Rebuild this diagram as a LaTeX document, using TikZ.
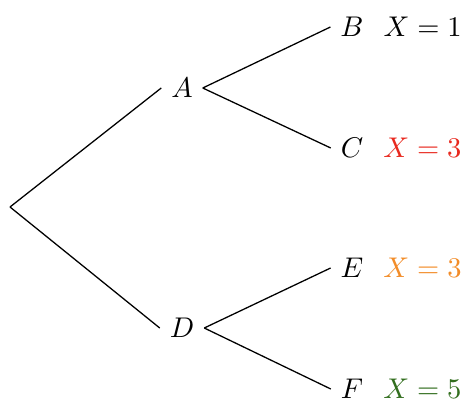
\documentclass[tikz,border=0pt]{standalone}
\definecolor{xred}{RGB}{232,40,30}
\definecolor{xorange}{RGB}{242,140,40}
\definecolor{xgreen}{RGB}{50,110,30}
\begin{document}
\begin{tikzpicture}[x=0.351pt,y=-0.351pt,
  edge/.style={draw=black, line width=0.45pt}]
\useasboundingbox (0,0) rectangle (474,413);
\coordinate (r) at (10,207);
\node (A) at (182,88) {$A$};
\node (D) at (182,328) {$D$};
\node[label=right:{$X=1$}] (B) at (352,27) {$B$};
\node[label={[text=xred]right:{$X=3$}}] (C) at (352,148) {$C$};
\node[label={[text=xorange]right:{$X=3$}}] (E) at (352,268) {$E$};
\node[label={[text=xgreen]right:{$X=5$}}] (F) at (352,389) {$F$};
\draw[edge] (r) -- (A.west);
\draw[edge] (r) -- (D.west);
\draw[edge] (A.east) -- (B.west);
\draw[edge] (A.east) -- (C.west);
\draw[edge] (D.east) -- (E.west);
\draw[edge] (D.east) -- (F.west);
\end{tikzpicture}
\end{document}
